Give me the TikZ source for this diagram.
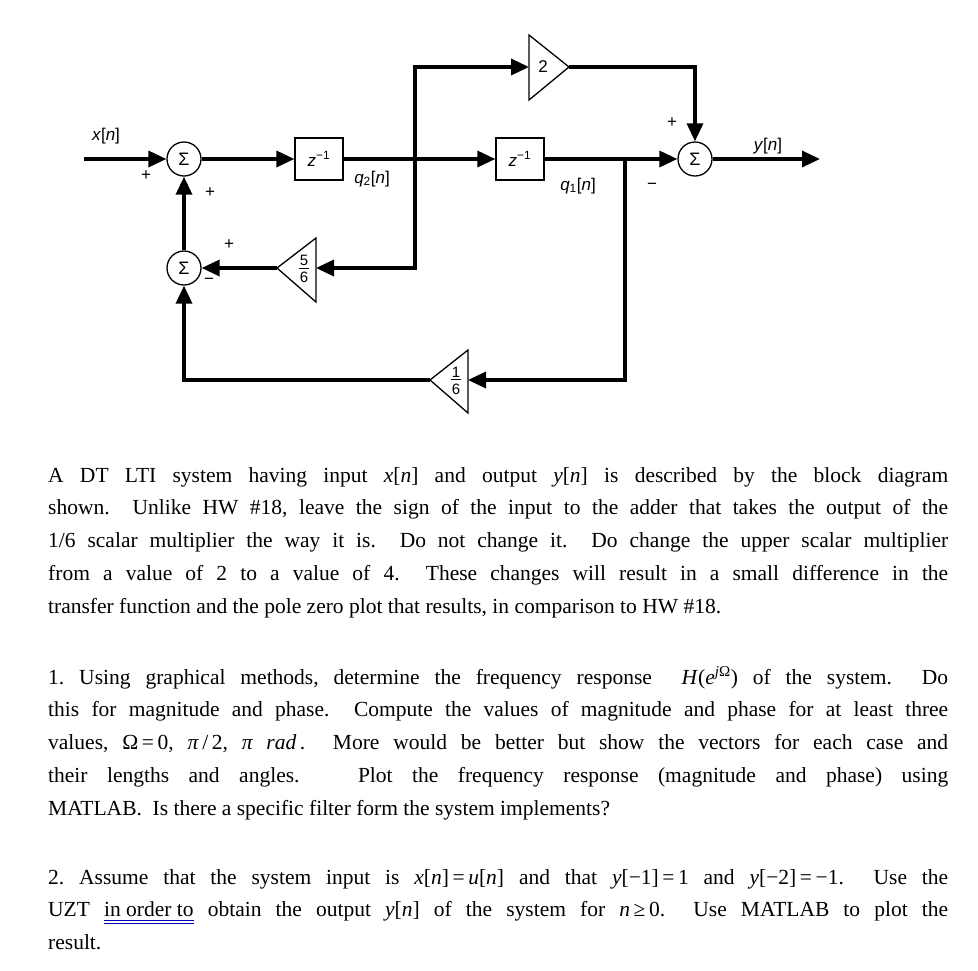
\documentclass[tikz,border=0pt]{standalone}
\usepackage{fontspec}
\setmainfont{Liberation Serif}
\newfontfamily\dsans{Liberation Sans}
\usetikzlibrary{arrows.meta}
\newcommand{\dul}[1]{\setbox0\hbox{#1}\rlap{\raisebox{-4pt}{\color{blue!70!black}\rule{\wd0}{0.7pt}}}\rlap{\raisebox{-7pt}{\color{blue!70!black}\rule{\wd0}{0.7pt}}}\box0}
\newcommand{\vi}[1]{\textit{#1}}
\begin{document}
\frenchspacing
\begin{tikzpicture}[x=1pt,y=-1pt,
  wire/.style={line width=3.4pt},
  arr/.style={wire,-{Triangle[length=18pt,width=16pt]}},
  sumnode/.style={circle,draw,line width=1.3pt,minimum size=34pt,inner sep=0pt,font=\dsans\fontsize{18}{18}\selectfont},
  delay/.style={draw,line width=1.3pt,minimum width=48pt,minimum height=42pt,inner sep=0pt,font=\dsans\fontsize{17}{17}\selectfont},
  lbl/.style={font=\dsans\fontsize{17}{17}\selectfont},
  sgn/.style={font=\dsans\fontsize{17}{17}\selectfont},
  tri/.style={line width=1.3pt}]
\useasboundingbox (0,0) rectangle (978,970);
% nodes
\node[sumnode] (s1) at (184,159) {Σ};
\node[sumnode] (s2) at (184,268) {Σ};
\node[sumnode] (s3) at (695,159) {Σ};
\node[delay] (d1) at (319,159) {\textit{z}\textsuperscript{\textminus1}};
\node[delay] (d2) at (520,159) {\textit{z}\textsuperscript{\textminus1}};
% gains
\draw[tri] (529,35)--(569,67)--(529,100)--cycle;
\node[lbl] (g2) at (543,67) {2};
\coordinate (g2in) at (529,67); \coordinate (g2out) at (569,67);
\draw[tri] (316,238)--(277,268)--(316,302)--cycle;
\node[lbl,font=\dsans\fontsize{15}{15}\selectfont,inner sep=1pt] (g5) at (304,269) {\shortstack{5\\[-1pt]\rule{10pt}{0.8pt}\\[1pt]6}};
\coordinate (g5in) at (316,268); \coordinate (g5out) at (277,268);
\draw[tri] (468,350)--(430,380)--(468,413)--cycle;
\node[lbl,font=\dsans\fontsize{15}{15}\selectfont,inner sep=1pt] (g1) at (456,381) {\shortstack{1\\[-1pt]\rule{10pt}{0.8pt}\\[1pt]6}};
\coordinate (g1in) at (468,380); \coordinate (g1out) at (430,380);
% coordinates
\coordinate (xin) at (84,159);
\coordinate (j2) at (415,159);
\coordinate (j1) at (625,159);
\coordinate (yout) at (820,159);
% connectors
\draw[arr] (xin) -- (s1);
\draw[arr] (s1) -- (d1);
\draw[wire] (d1.east) -- (j2);
\draw[arr] (j2) -- (d2.west);
\draw[wire] (d2.east) -- (j1);
\draw[arr] (j1) -- (s3);
\draw[arr] (s3) -- (yout);
\draw[arr] (j2) |- (g2in);
\draw[arr] (g2out) -| (s3);
\draw[arr] (j2) |- (g5in);
\draw[arr] (g5out) -- (s2);
\draw[arr] (s2) -- (s1);
\draw[arr] (j1) |- (g1in);
\draw[arr] (g1out) -| (s2);
% labels
\node[lbl] (lx) at (106,136) {\vi{x}[\vi{n}]};
\node[lbl] (ly) at (768,146) {\vi{y}[\vi{n}]};
\node[lbl] (lq2) at (372,179) {\vi{q}\textsubscript{2}[\vi{n}]};
\node[lbl] (lq1) at (578,186) {\vi{q}\textsubscript{1}[\vi{n}]};
\node[sgn] at (146,176) {+};
\node[sgn] at (210,193) {+};
\node[sgn] at (229,245) {+};
\node[sgn] at (209,281) {\textminus};
\node[sgn] at (672,123) {+};
\node[sgn] at (652,186) {\textminus};
% text
\node[anchor=north west,inner sep=0pt,text width=900pt,align=justify,font=\fontsize{21.5}{32.8}\selectfont] (txt) at (48,467) {%
A DT LTI system having input \vi{x}[\vi{n}] and output \vi{y}[\vi{n}] is described by the block diagram\linebreak
shown.\ \ Unlike HW \#18, leave the sign of the input to the adder that takes the output of the\linebreak
1/6 scalar multiplier the way it is.\ \ Do not change it.\ \ Do change the upper scalar multiplier\linebreak
from a value of 2 to a value of 4.\ \ These changes will result in a small difference in the\linebreak
transfer function and the pole zero plot that results, in comparison to HW \#18.\par
\vspace{38pt}
1. Using graphical methods, determine the frequency response \ \vi{H}(\vi{e}\textsuperscript{\vi{j}Ω}) of the system.\ \ Do\linebreak
this for magnitude and phase.\ \ Compute the values of magnitude and phase for at least three\linebreak
values, Ω\,=\,0, \vi{π}\,/\,2, \vi{π rad}\,.\ \ More would be better but show the vectors for each case and\linebreak
their lengths and angles. \ \ Plot the frequency response (magnitude and phase) using\linebreak
MATLAB.\ \ Is there a specific filter form the system implements?\par
\vspace{36pt}
2. Assume that the system input is \vi{x}[\vi{n}]\,=\,\vi{u}[\vi{n}] and that \vi{y}[\textminus1]\,=\,1 and \vi{y}[\textminus2]\,=\,\textminus1.\ \ Use the\linebreak
UZT \dul{in order to}\ obtain the output \vi{y}[\vi{n}] of the system for \vi{n}\,≥\,0.\ \ Use MATLAB to plot the\linebreak
result.\par};
\end{tikzpicture}
\end{document}
